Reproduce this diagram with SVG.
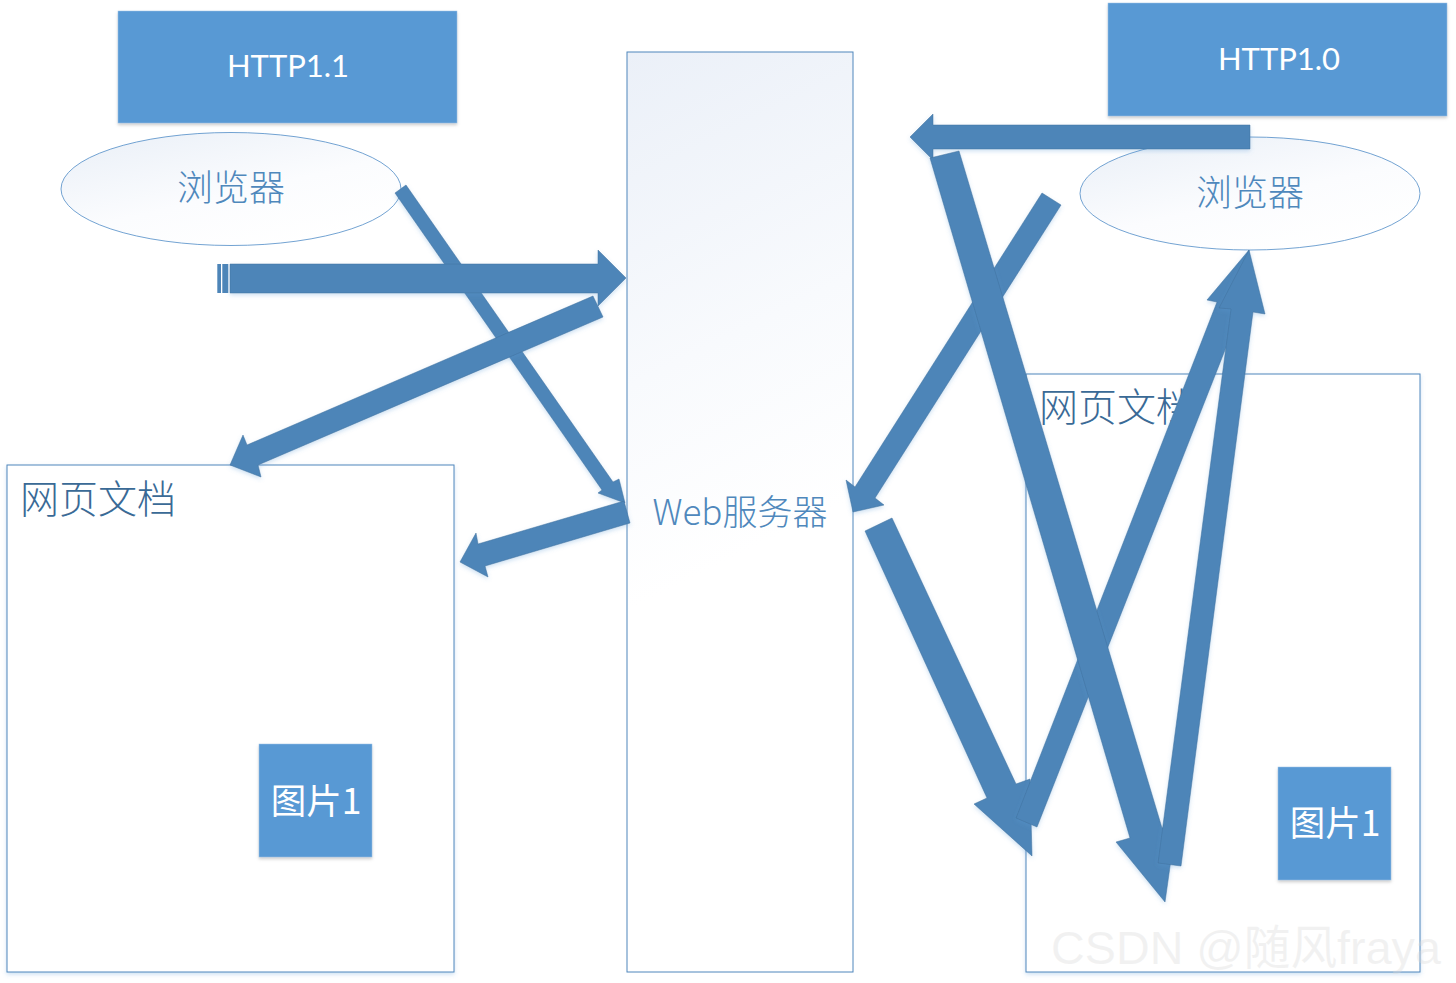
<svg xmlns="http://www.w3.org/2000/svg" width="1456" height="983" viewBox="0 0 1456 983">
<defs>
<linearGradient id="gw" gradientUnits="userSpaceOnUse" x1="627" y1="52" x2="850" y2="500"><stop offset="0" stop-color="#EBF0F8"/><stop offset="0.6" stop-color="#F8FAFD"/><stop offset="1" stop-color="#FFFFFF"/></linearGradient>
<linearGradient id="ge" x1="0" y1="0" x2="0.7" y2="1"><stop offset="0" stop-color="#E9EFF7"/><stop offset="0.6" stop-color="#FBFCFE"/><stop offset="1" stop-color="#FFFFFF"/></linearGradient>
<filter id="sh" x="-10%" y="-10%" width="120%" height="120%"><feDropShadow dx="0" dy="2" stdDeviation="2" flood-color="#5B9BD5" flood-opacity="0.3"/></filter>
<filter id="sg" x="-10%" y="-10%" width="120%" height="120%"><feDropShadow dx="0" dy="2" stdDeviation="1.500" flood-color="#888888" flood-opacity="0.4"/></filter>
</defs>
<style>
text{font-family:"Noto Sans CJK SC","Liberation Sans",sans-serif;font-weight:300;text-anchor:middle}
.box{fill:#5999D4;stroke:#9DC3E6;stroke-width:.5;filter:url(#sg)}
.doc{fill:#FFFFFF;stroke:#4F86BC;stroke-width:1;filter:url(#sh)}
.ell{fill:url(#ge);stroke:#4F8CC6;stroke-width:.8}
.w{fill:#FFFFFF;font-size:35.500px;font-weight:400}
.h{font-family:Lato,"Liberation Sans",sans-serif;font-weight:400;font-size:31px;fill:#FFFFFF}
.l{fill:#4F88BC;font-size:36px}
.d{fill:#3A6A96;font-size:39px;text-anchor:start;font-weight:300}
#connectors polygon{fill:#4D85B8;stroke:#41719C;stroke-width:.5;filter:url(#sh)}
#connectors rect{fill:#4D85B8}
</style>
<g id="web-server"><rect x="627" y="52" width="226" height="920" fill="url(#gw)" stroke="#4F86BC" stroke-width="1"/><text x="740" y="525" class="l" style="font-size:35px">Web服务器</text></g>
<g id="http11"><rect class="box" x="118" y="11" width="339" height="112"/><text x="288" y="77" class="h">HTTP1.1</text></g>
<g id="http10"><rect class="box" x="1108" y="3" width="339" height="113"/><text x="1279" y="70" class="h">HTTP1.0</text></g>
<g id="browser-left"><ellipse class="ell" cx="231" cy="189" rx="170" ry="56.500"/><text x="231" y="201" class="l">浏览器</text></g>
<g id="browser-right"><ellipse class="ell" cx="1250" cy="193.500" rx="170" ry="56.500"/><text x="1250" y="206" class="l">浏览器</text></g>
<g id="doc-left"><rect class="doc" x="7" y="465" width="447" height="507"/><text x="20" y="513" class="d">网页文档</text></g>
<g id="doc-right"><rect class="doc" x="1026" y="374" width="394" height="598"/><text x="1039" y="421" class="d">网页文档</text></g>
<g id="img-left"><rect class="box" x="259" y="744" width="113" height="113"/><text x="316" y="814" class="w">图片1</text></g>
<g id="img-right"><rect class="box" x="1278" y="767" width="113" height="113"/><text x="1335" y="836" class="w">图片1</text></g>
<g id="connectors">
<polygon points="395,193 406,185 613,482 619,479 625,503 598,493 602,490"/>
<rect x="217.300" y="264" width="3.700" height="29"/><rect x="222.300" y="264" width="6" height="29"/>
<polygon points="230,264 598,264 598,250 626,278 598,306 598,293 230,293"/>
<polygon points="593,296 603,317 258,465 261,477 230,465 243,435 247,445"/>
<polygon points="624,501 630,523 485,566 488,577 460,562 476,533 478,544"/>
<polygon points="933,125 1250,125 1250,149 933,149 933,160 910,137 933,114"/>
<polygon points="1042,193 1061,205 875,498 884,505 853,512 846,480 855,487"/>
<polygon points="865,531 892,518 1016,784 1030,779 1032,856 974,804 987,798"/>
<polygon points="1016,818 1037,827 1240,312 1250,315 1249,250 1207,300 1217,302"/>
<polygon points="930,158 959,151 1162,828 1176,824 1165,902 1116,842 1130,838"/>
<polygon points="1158,863 1181,866 1253,312 1265,314 1249,250 1219,308 1231,309"/>
</g>
<text id="watermark" x="1246" y="964" style="font-family:'Liberation Sans','Noto Sans CJK SC',sans-serif;font-weight:400;font-size:46.700px;fill:#D9D9D9;fill-opacity:.35">CSDN @随风fraya</text>
</svg>
